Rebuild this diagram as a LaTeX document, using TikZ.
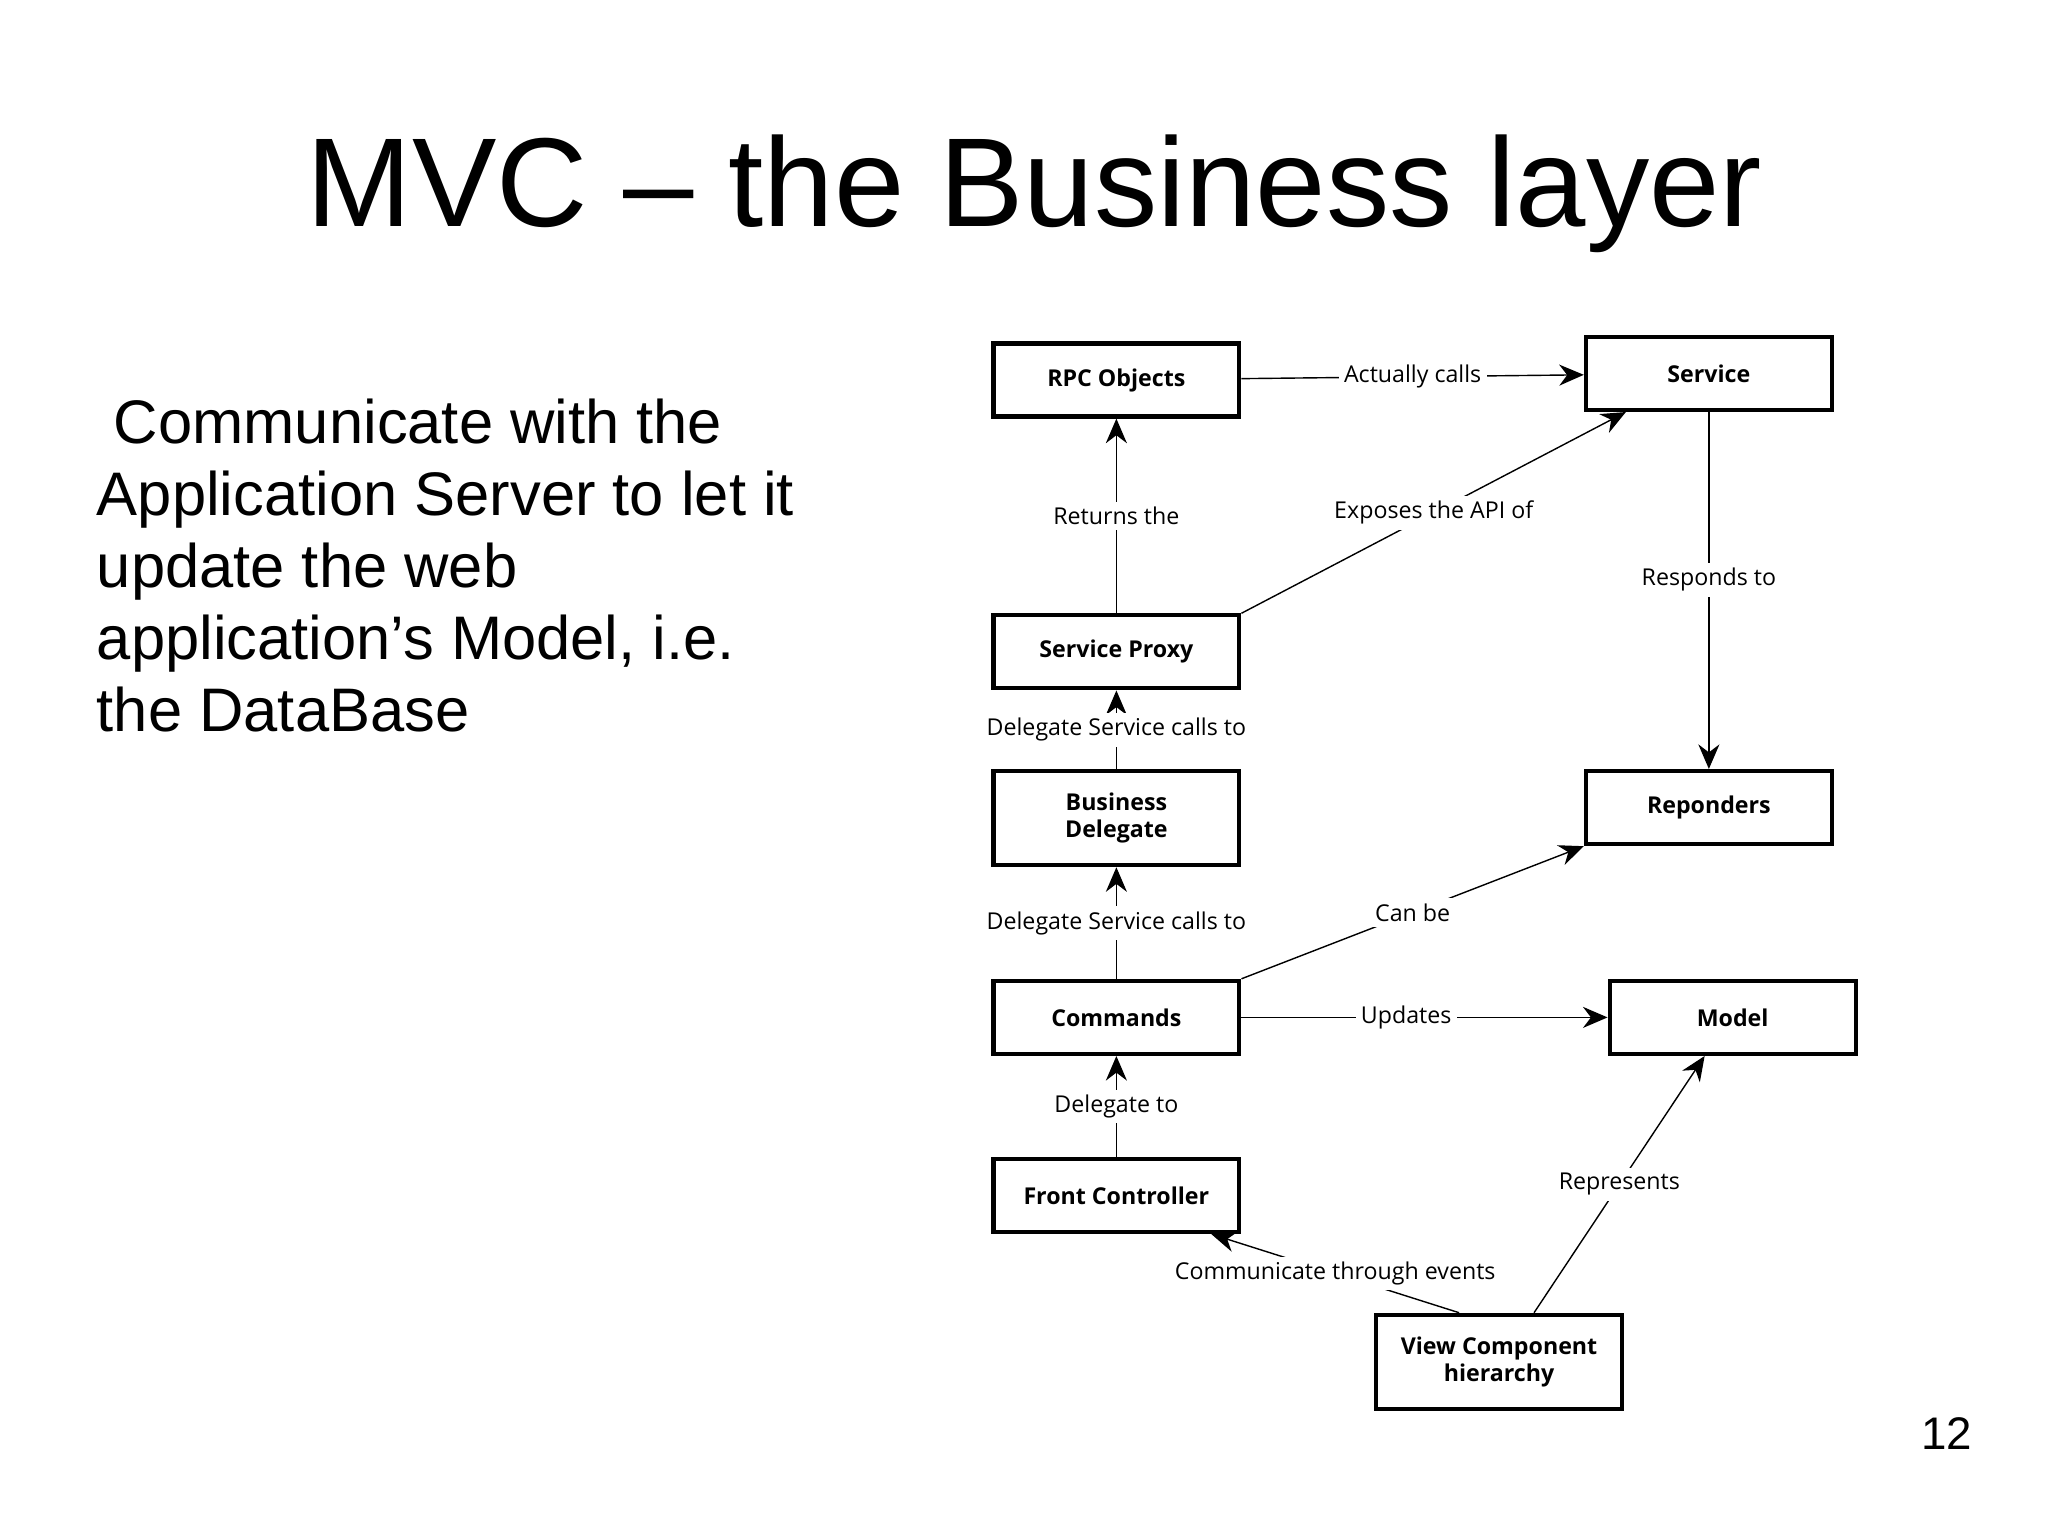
\documentclass[tikz,border=0pt]{standalone}
\usepackage{fontspec}
\setmainfont{Liberation Sans}
\newfontfamily\diafont{Open Sans}
\usetikzlibrary{arrows.meta,positioning}
\begin{document}
\begin{tikzpicture}[x=0.0132cm, y=-0.0132cm, >={Stealth[length=7pt,width=6pt]},
        box/.style={draw, very thick, minimum width=2.46cm, minimum height=0.73cm, align=center,
                    font=\diafont\bfseries\fontsize{6.6}{7.6}\selectfont, inner sep=1pt},
        lbl/.style={fill=white, inner sep=1.5pt, font=\diafont\fontsize{6.6}{7.6}\selectfont},
        link/.style={->, thin}]
    \useasboundingbox (0,0) rectangle (1552,1163);
    \node[font=\fontsize{36}{40}\selectfont] (title) at (784,147) {MVC -- the Business layer};
    \node[anchor=north west, align=left, font=\fontsize{17.5}{20.5}\selectfont] (body) at (64,293)
        {\ Communicate with the\\Application Server to let it\\update the web\\application's Model, i.e.\\the DataBase};
    \node[font=\rmfamily\fontsize{13}{15}\selectfont] (page) at (1475,1086) {12};

    \node[box] (rpc) at (846,288) {RPC Objects};
    \node[box] (service) at (1295,283) {Service};
    \node[box] (proxy) at (846,494) {Service Proxy};
    \node[box, minimum height=0.94cm] (delegate) at (846,620) {Business\\Delegate};
    \node[box] (responders) at (1295,612) {Reponders};
    \node[box] (commands) at (846,771) {Commands};
    \node[box] (model) at (1313,771) {Model};
    \node[box] (front) at (846,906) {Front Controller};
    \node[box, minimum height=0.94cm] (view) at (1136,1032) {View Component\\hierarchy};

    \draw[link] (rpc) -- node[lbl, pos=0.5] {Actually calls} (service);
    \draw[link] (proxy) -- node[lbl] {Returns the} (rpc);
    \draw[link] (proxy.north east) -- node[lbl, pos=0.5] {Exposes the API of} ([xshift=-0.83cm]service.south);
    \draw[link] (service) -- node[lbl, pos=0.47] {Responds to} (responders);
    \draw[link] (delegate) -- node[lbl, pos=0.5] {Delegate Service calls to} (proxy);
    \draw[link] (commands) -- node[lbl, pos=0.5] {Delegate Service calls to} (delegate);
    \draw[link] (commands.north east) -- node[lbl, pos=0.5] {Can be} (responders.south west);
    \draw[link] (commands) -- node[lbl, pos=0.45] {Updates} (model);
    \draw[link] (front) -- node[lbl, pos=0.5] {Delegate to} (commands);
    \draw[link] ([xshift=-0.4cm]view.north) -- node[lbl, pos=0.5] {Communicate through events} ([xshift=0.95cm]front.south);
    \draw[link] ([xshift=0.35cm]view.north) -- node[lbl, pos=0.5] {Represents} ([xshift=-0.28cm]model.south);
\end{tikzpicture}
\end{document}
